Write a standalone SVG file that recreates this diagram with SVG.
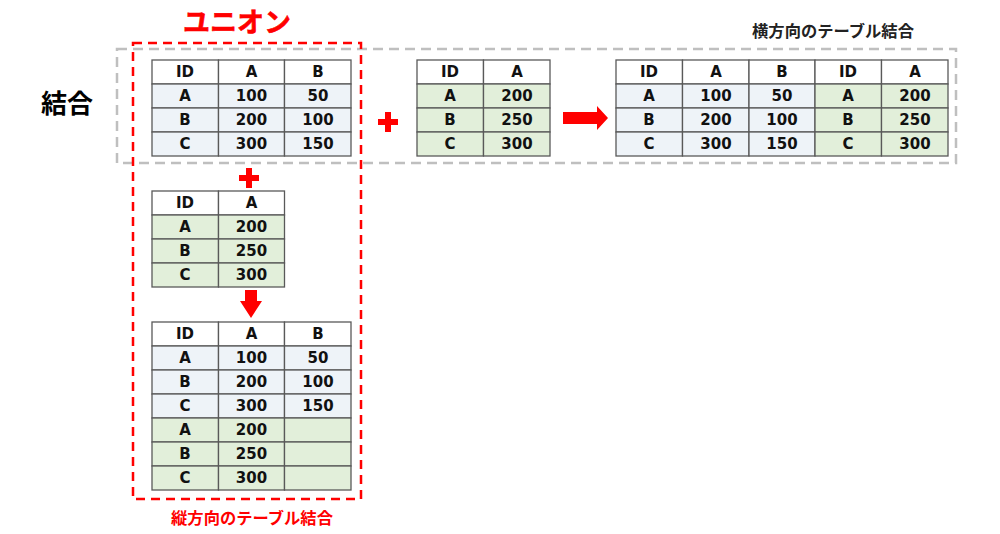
<svg xmlns="http://www.w3.org/2000/svg" width="1000" height="534" viewBox="0 0 1000 534">
<style>
.c{stroke:#595959;stroke-width:1.3}
.h{fill:#ffffff}
.b{fill:#EEF3F8}
.g{fill:#E2EFDA}
.t{font-family:"DejaVu Sans","Verdana",sans-serif;font-weight:bold;font-size:15px;fill:#111;text-anchor:middle}
.lab{font-family:"Noto Sans CJK JP",sans-serif;font-weight:bold;text-anchor:middle}
</style>
<rect width="1000" height="534" fill="#fff"/>
<g id="connectors">
<rect x="117" y="49" width="839" height="114" fill="none" stroke="#BFBFBF" stroke-width="2.5" stroke-dasharray="10,6"/>
<rect x="133" y="43" width="228" height="456" fill="none" stroke="#FF0000" stroke-width="2.5" stroke-dasharray="9,6"/>
<path d="M378,119 H398 V125 H378 Z M385,112 H391 V132 H385 Z" fill="#FF0000"/>
<path d="M239,175 H259 V181 H239 Z M246,168 H252 V188 H246 Z" fill="#FF0000"/>
<path d="M563,112 H597 V106 L608,118 L597,130 V124 H563 Z" fill="#FF0000"/>
<path d="M245,290 H257 V301 H262 L251,318 L240,301 H245 Z" fill="#FF0000"/>
</g>
<g id="title">
<text x="237" y="32" class="lab" font-size="27" fill="#FF0000" stroke="#FF0000" stroke-width="0.6">ユニオン</text>
<text x="67" y="113" class="lab" font-size="26" fill="#000">結合</text>
<text x="833" y="37" class="lab" font-size="16.3" fill="#222">横方向のテーブル結合</text>
<text x="252" y="524" class="lab" font-size="16.3" fill="#FF0000">縦方向のテーブル結合</text>
</g>
<g id="table1">
<rect class="c h" x="152" y="60" width="66.5" height="24"/><rect class="c h" x="218.5" y="60" width="66" height="24"/><rect class="c h" x="284.5" y="60" width="66.5" height="24"/>
<rect class="c b" x="152" y="84" width="66.5" height="24"/><rect class="c b" x="218.5" y="84" width="66" height="24"/><rect class="c b" x="284.5" y="84" width="66.5" height="24"/>
<rect class="c b" x="152" y="108" width="66.5" height="24"/><rect class="c b" x="218.5" y="108" width="66" height="24"/><rect class="c b" x="284.5" y="108" width="66.5" height="24"/>
<rect class="c b" x="152" y="132" width="66.5" height="24"/><rect class="c b" x="218.5" y="132" width="66" height="24"/><rect class="c b" x="284.5" y="132" width="66.5" height="24"/>
<text class="t" x="185" y="77">ID</text><text class="t" x="251.5" y="77">A</text><text class="t" x="318" y="77">B</text>
<text class="t" x="185" y="101">A</text><text class="t" x="251.5" y="101">100</text><text class="t" x="318" y="101">50</text>
<text class="t" x="185" y="125">B</text><text class="t" x="251.5" y="125">200</text><text class="t" x="318" y="125">100</text>
<text class="t" x="185" y="149">C</text><text class="t" x="251.5" y="149">300</text><text class="t" x="318" y="149">150</text>
</g>
<g id="table2">
<rect class="c h" x="417" y="60" width="66.5" height="24"/><rect class="c h" x="483.5" y="60" width="66.5" height="24"/>
<rect class="c g" x="417" y="84" width="66.5" height="24"/><rect class="c g" x="483.5" y="84" width="66.5" height="24"/>
<rect class="c g" x="417" y="108" width="66.5" height="24"/><rect class="c g" x="483.5" y="108" width="66.5" height="24"/>
<rect class="c g" x="417" y="132" width="66.5" height="24"/><rect class="c g" x="483.5" y="132" width="66.5" height="24"/>
<text class="t" x="450" y="77">ID</text><text class="t" x="517" y="77">A</text>
<text class="t" x="450" y="101">A</text><text class="t" x="517" y="101">200</text>
<text class="t" x="450" y="125">B</text><text class="t" x="517" y="125">250</text>
<text class="t" x="450" y="149">C</text><text class="t" x="517" y="149">300</text>
</g>
<g id="table3">
<rect class="c h" x="616" y="60" width="66.5" height="24"/><rect class="c h" x="682.5" y="60" width="66.5" height="24"/><rect class="c h" x="749" y="60" width="66" height="24"/><rect class="c h" x="815" y="60" width="66.5" height="24"/><rect class="c h" x="881.5" y="60" width="66.5" height="24"/>
<rect class="c b" x="616" y="84" width="66.5" height="24"/><rect class="c b" x="682.5" y="84" width="66.5" height="24"/><rect class="c b" x="749" y="84" width="66" height="24"/><rect class="c g" x="815" y="84" width="66.5" height="24"/><rect class="c g" x="881.5" y="84" width="66.5" height="24"/>
<rect class="c b" x="616" y="108" width="66.5" height="24"/><rect class="c b" x="682.5" y="108" width="66.5" height="24"/><rect class="c b" x="749" y="108" width="66" height="24"/><rect class="c g" x="815" y="108" width="66.5" height="24"/><rect class="c g" x="881.5" y="108" width="66.5" height="24"/>
<rect class="c b" x="616" y="132" width="66.5" height="24"/><rect class="c b" x="682.5" y="132" width="66.5" height="24"/><rect class="c b" x="749" y="132" width="66" height="24"/><rect class="c g" x="815" y="132" width="66.5" height="24"/><rect class="c g" x="881.5" y="132" width="66.5" height="24"/>
<text class="t" x="649" y="77">ID</text><text class="t" x="716" y="77">A</text><text class="t" x="782" y="77">B</text><text class="t" x="848" y="77">ID</text><text class="t" x="915" y="77">A</text>
<text class="t" x="649" y="101">A</text><text class="t" x="716" y="101">100</text><text class="t" x="782" y="101">50</text><text class="t" x="848" y="101">A</text><text class="t" x="915" y="101">200</text>
<text class="t" x="649" y="125">B</text><text class="t" x="716" y="125">200</text><text class="t" x="782" y="125">100</text><text class="t" x="848" y="125">B</text><text class="t" x="915" y="125">250</text>
<text class="t" x="649" y="149">C</text><text class="t" x="716" y="149">300</text><text class="t" x="782" y="149">150</text><text class="t" x="848" y="149">C</text><text class="t" x="915" y="149">300</text>
</g>
<g id="table4">
<rect class="c h" x="152" y="191" width="66.5" height="24"/><rect class="c h" x="218.5" y="191" width="66" height="24"/>
<rect class="c g" x="152" y="215" width="66.5" height="24"/><rect class="c g" x="218.5" y="215" width="66" height="24"/>
<rect class="c g" x="152" y="239" width="66.5" height="24"/><rect class="c g" x="218.5" y="239" width="66" height="24"/>
<rect class="c g" x="152" y="263" width="66.5" height="24"/><rect class="c g" x="218.5" y="263" width="66" height="24"/>
<text class="t" x="185" y="208">ID</text><text class="t" x="251.5" y="208">A</text>
<text class="t" x="185" y="232">A</text><text class="t" x="251.5" y="232">200</text>
<text class="t" x="185" y="256">B</text><text class="t" x="251.5" y="256">250</text>
<text class="t" x="185" y="280">C</text><text class="t" x="251.5" y="280">300</text>
</g>
<g id="table5">
<rect class="c h" x="152" y="322" width="66.5" height="24"/><rect class="c h" x="218.5" y="322" width="66" height="24"/><rect class="c h" x="284.5" y="322" width="66.5" height="24"/>
<rect class="c b" x="152" y="346" width="66.5" height="24"/><rect class="c b" x="218.5" y="346" width="66" height="24"/><rect class="c b" x="284.5" y="346" width="66.5" height="24"/>
<rect class="c b" x="152" y="370" width="66.5" height="24"/><rect class="c b" x="218.5" y="370" width="66" height="24"/><rect class="c b" x="284.5" y="370" width="66.5" height="24"/>
<rect class="c b" x="152" y="394" width="66.5" height="24"/><rect class="c b" x="218.5" y="394" width="66" height="24"/><rect class="c b" x="284.5" y="394" width="66.5" height="24"/>
<rect class="c g" x="152" y="418" width="66.5" height="24"/><rect class="c g" x="218.5" y="418" width="66" height="24"/><rect class="c g" x="284.5" y="418" width="66.5" height="24"/>
<rect class="c g" x="152" y="442" width="66.5" height="24"/><rect class="c g" x="218.5" y="442" width="66" height="24"/><rect class="c g" x="284.5" y="442" width="66.5" height="24"/>
<rect class="c g" x="152" y="466" width="66.5" height="24"/><rect class="c g" x="218.5" y="466" width="66" height="24"/><rect class="c g" x="284.5" y="466" width="66.5" height="24"/>
<text class="t" x="185" y="339">ID</text><text class="t" x="251.5" y="339">A</text><text class="t" x="318" y="339">B</text>
<text class="t" x="185" y="363">A</text><text class="t" x="251.5" y="363">100</text><text class="t" x="318" y="363">50</text>
<text class="t" x="185" y="387">B</text><text class="t" x="251.5" y="387">200</text><text class="t" x="318" y="387">100</text>
<text class="t" x="185" y="411">C</text><text class="t" x="251.5" y="411">300</text><text class="t" x="318" y="411">150</text>
<text class="t" x="185" y="435">A</text><text class="t" x="251.5" y="435">200</text>
<text class="t" x="185" y="459">B</text><text class="t" x="251.5" y="459">250</text>
<text class="t" x="185" y="483">C</text><text class="t" x="251.5" y="483">300</text>
</g>
</svg>
